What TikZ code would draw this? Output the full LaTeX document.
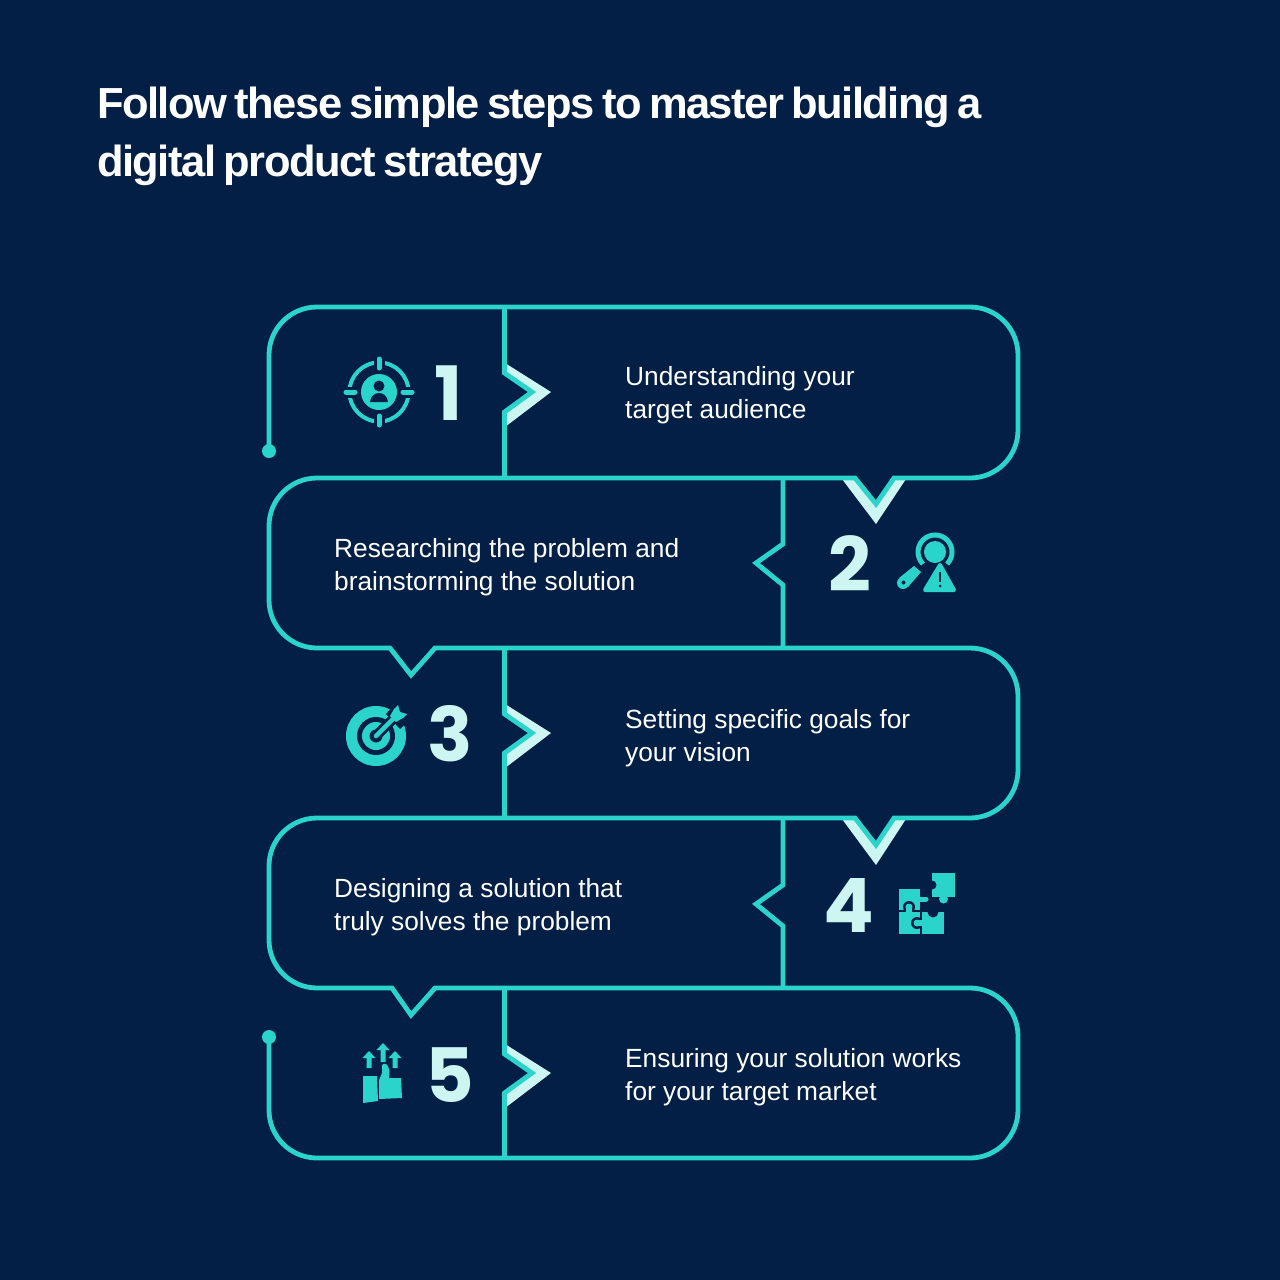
\documentclass[tikz,border=0pt]{standalone}
\usepackage{fontspec}
\setmainfont{Liberation Sans}
\newfontfamily\numfont{Poppins}
\newfontfamily\headfont[LetterSpace=-3.5,WordSpace=0.7]{Liberation Sans}
\definecolor{bgnavy}{HTML}{031F45}
\definecolor{linkteal}{HTML}{2AD4CA}
\definecolor{palemint}{HTML}{CDF6F3}
\tikzset{
  flowline/.style={draw=linkteal,line width=4.8pt,line join=miter},
  paleband/.style={fill=palemint},
  tealfill/.style={fill=linkteal},
  navyfill/.style={fill=bgnavy},
  steptext/.style={text=white,anchor=west,inner sep=0pt,align=left,font=\fontsize{26.3}{33}\selectfont},
  stepnum/.style={text=palemint,inner sep=0pt,font=\numfont\bfseries\fontsize{75}{75}\selectfont}
}
\begin{document}
\begin{tikzpicture}[x=1pt,y=-1pt]
        \useasboundingbox[navyfill] (0,0) rectangle (1280,1280);

        % Title
        \node[text=white,anchor=west,inner sep=0pt,align=left,font=\headfont\bfseries\fontsize{43.5}{57.5}\selectfont] (titletext) at (97,136.5)
          {Follow these simple steps to master building a\\digital product strategy};

        % Pale bands behind the teal chevrons
        \fill[paleband] (505,363) -- (551,392) -- (505,427) -- (505,414) -- (533,392) -- (505,372) -- cycle;
        \fill[paleband] (842,479) -- (857,479) -- (876,505) -- (893,479) -- (906,479) -- (876,524) -- cycle;
        \fill[paleband] (505,704) -- (551,733) -- (505,768) -- (505,755) -- (533,733) -- (505,713) -- cycle;
        \fill[paleband] (842,819) -- (857,819) -- (876,846) -- (893,819) -- (906,819) -- (876,865) -- cycle;
        \fill[paleband] (505,1044) -- (551,1073) -- (505,1108) -- (505,1095) -- (533,1073) -- (505,1053) -- cycle;

        % Long line winding through the five rows
        \draw[flowline] (269,451) -- (269,355) arc[start angle=180,end angle=270,radius=48]
          -- (970,307) arc[start angle=270,end angle=360,radius=48]
          -- (1018,430) arc[start angle=0,end angle=90,radius=48]
          -- (894,478) -- (876,504) -- (855,478)
          -- (317,478) arc[start angle=270,end angle=180,radius=48]
          -- (269,600) arc[start angle=180,end angle=90,radius=48]
          -- (390,648) -- (411,675) -- (435,648)
          -- (970,648) arc[start angle=270,end angle=360,radius=48]
          -- (1018,770) arc[start angle=0,end angle=90,radius=48]
          -- (894,818) -- (876,845) -- (855,818)
          -- (317,818) arc[start angle=270,end angle=180,radius=48]
          -- (269,940) arc[start angle=180,end angle=90,radius=48]
          -- (392,988) -- (411,1015) -- (435,988)
          -- (970,988) arc[start angle=270,end angle=360,radius=48]
          -- (1018,1110) arc[start angle=0,end angle=90,radius=48]
          -- (317,1158) arc[start angle=90,end angle=180,radius=48]
          -- (269,1037);
        \fill[tealfill] (269,451) circle (7);
        \fill[tealfill] (269,1037) circle (7);

        % Dividers with their notches
        \draw[flowline] (504.5,307) -- (504.5,373) -- (532,392) -- (504.5,412) -- (504.5,478);
        \draw[flowline] (783,478) -- (783,544) -- (756,563) -- (783,585) -- (783,648);
        \draw[flowline] (504.5,648) -- (504.5,714) -- (532,733) -- (504.5,753) -- (504.5,818);
        \draw[flowline] (783,818) -- (783,885) -- (756,904) -- (783,926) -- (783,988);
        \draw[flowline] (504.5,988) -- (504.5,1054) -- (532,1073) -- (504.5,1093) -- (504.5,1158);

        % Step texts
        \node[steptext] (textone) at (625,395) {Understanding your\\target audience};
        \node[steptext] (texttwo) at (334,567) {Researching the problem and\\brainstorming the solution};
        \node[steptext] (textthree) at (625,738) {Setting specific goals for\\your vision};
        \node[steptext] (textfour) at (334,907) {Designing a solution that\\truly solves the problem};
        \node[steptext] (textfive) at (625,1077) {Ensuring your solution works\\for your target market};

        % Step numbers
        \node[stepnum] (numone) at (448.5,393) {1};
        \node[stepnum] (numtwo) at (850,564) {2};
        \node[stepnum] (numthree) at (450,734) {3};
        \node[stepnum] (numfour) at (849,905) {4};
        \node[stepnum] (numfive) at (450,1075) {5};

        % Icon 1: person in crosshair
        \draw[linkteal,line width=4pt] (379,392) circle (29.5);
        \draw[bgnavy,line width=11pt] (379,355) -- (379,370) (379,414) -- (379,429) (342,392) -- (357,392) (401,392) -- (416,392);
        \draw[linkteal,line width=5pt,line cap=round] (379,359) -- (379,368) (379,416) -- (379,425) (346,392) -- (355,392) (403,392) -- (412,392);
        \fill[tealfill] (379,392) circle (18);
        \fill[navyfill] (379,386) circle (5.5);
        \fill[navyfill] (370,402) .. controls (371,390) and (387,390) .. (388,402) -- cycle;

        % Icon 2: magnifier and warning sign
        \draw[linkteal,line width=5pt] (923,564) arc[start angle=135,end angle=405,radius=17];
        \fill[tealfill] (935,552) circle (11);
        \fill[tealfill] (899,578) -- (914,566) -- (921,572) -- (908,587) -- cycle;
        \fill[tealfill] (903,583) circle (6);
        \fill[navyfill] (903.5,582.5) circle (2);
        \draw[navyfill,draw=bgnavy,line width=9pt,line join=round] (940,567) -- (925,589) -- (953,589) -- cycle;
        \draw[tealfill,draw=linkteal,line width=4pt,line join=round] (940,565) -- (925,590) -- (954,590) -- cycle;
        \draw[bgnavy,line width=2.5pt] (940,572) -- (940,582);
        \fill[navyfill] (940,586) circle (1.5);

        % Icon 3: dartboard and arrow
        \fill[tealfill] (376,736) circle (30);
        \fill[navyfill] (376,736) circle (19);
        \fill[tealfill] (376,736) circle (14);
        \fill[navyfill] (376,736) circle (6.5);
        \draw[bgnavy,line width=10pt] (376,736) -- (398,714);
        \fill[navyfill] (386,714) -- (398,700) -- (414,716) -- (400,729) -- cycle;
        \draw[linkteal,line width=4.5pt,line cap=round] (376,736) -- (396,716);
        \fill[tealfill] (390,716) -- (394,709) -- (398,705) -- (400,712) -- (407,714) -- (403,718) -- (396,722) -- cycle;

        % Icon 4: puzzle pieces
        \fill[tealfill] (932,873) -- (955,873) -- (955,897) -- (932,897) -- cycle;
        \fill[tealfill] (943.5,899) circle (4.5);
        \fill[navyfill] (932,885) circle (4.5);
        \fill[tealfill] (899,889) rectangle (920,910);
        \draw[linkteal,line width=5pt,line cap=round] (920,899) -- (926,899);
        \fill[tealfill] (899,912) rectangle (920,934);
        \fill[tealfill] (922,912) rectangle (944,934);
        \fill[navyfill] (933,912) circle (5.5);
        \fill[navyfill] (909,907) circle (6);
        \fill[tealfill] (909,907) circle (3.5);
        \fill[tealfill] (906,907) rectangle (912,913);
        \fill[navyfill] (917,923) circle (6);
        \fill[tealfill] (917,923) circle (3.5);
        \fill[tealfill] (917,920) rectangle (923,926);

        % Icon 5: thumb up and three arrows
        \fill[tealfill] (363,1076) -- (377,1076) -- (378,1101) -- (363,1103) -- cycle;
        \fill[tealfill] (379,1080) -- (382,1073) -- (382,1065) .. controls (387,1060) and (391,1070) .. (389,1078) -- (401,1078) -- (402,1098) -- (379,1099) -- cycle;
        \fill[tealfill] (369,1051) -- (375.5,1058) -- (371.5,1058) -- (371.5,1068) -- (366.5,1068) -- (366.5,1058) -- (362.5,1058) -- cycle;
        \fill[tealfill] (383,1043) -- (389.5,1050) -- (385.5,1050) -- (385.5,1062) -- (380.5,1062) -- (380.5,1050) -- (376.5,1050) -- cycle;
        \fill[tealfill] (395,1051) -- (401.5,1058) -- (397.5,1058) -- (397.5,1068) -- (392.5,1068) -- (392.5,1058) -- (388.5,1058) -- cycle;
\end{tikzpicture}
\end{document}
